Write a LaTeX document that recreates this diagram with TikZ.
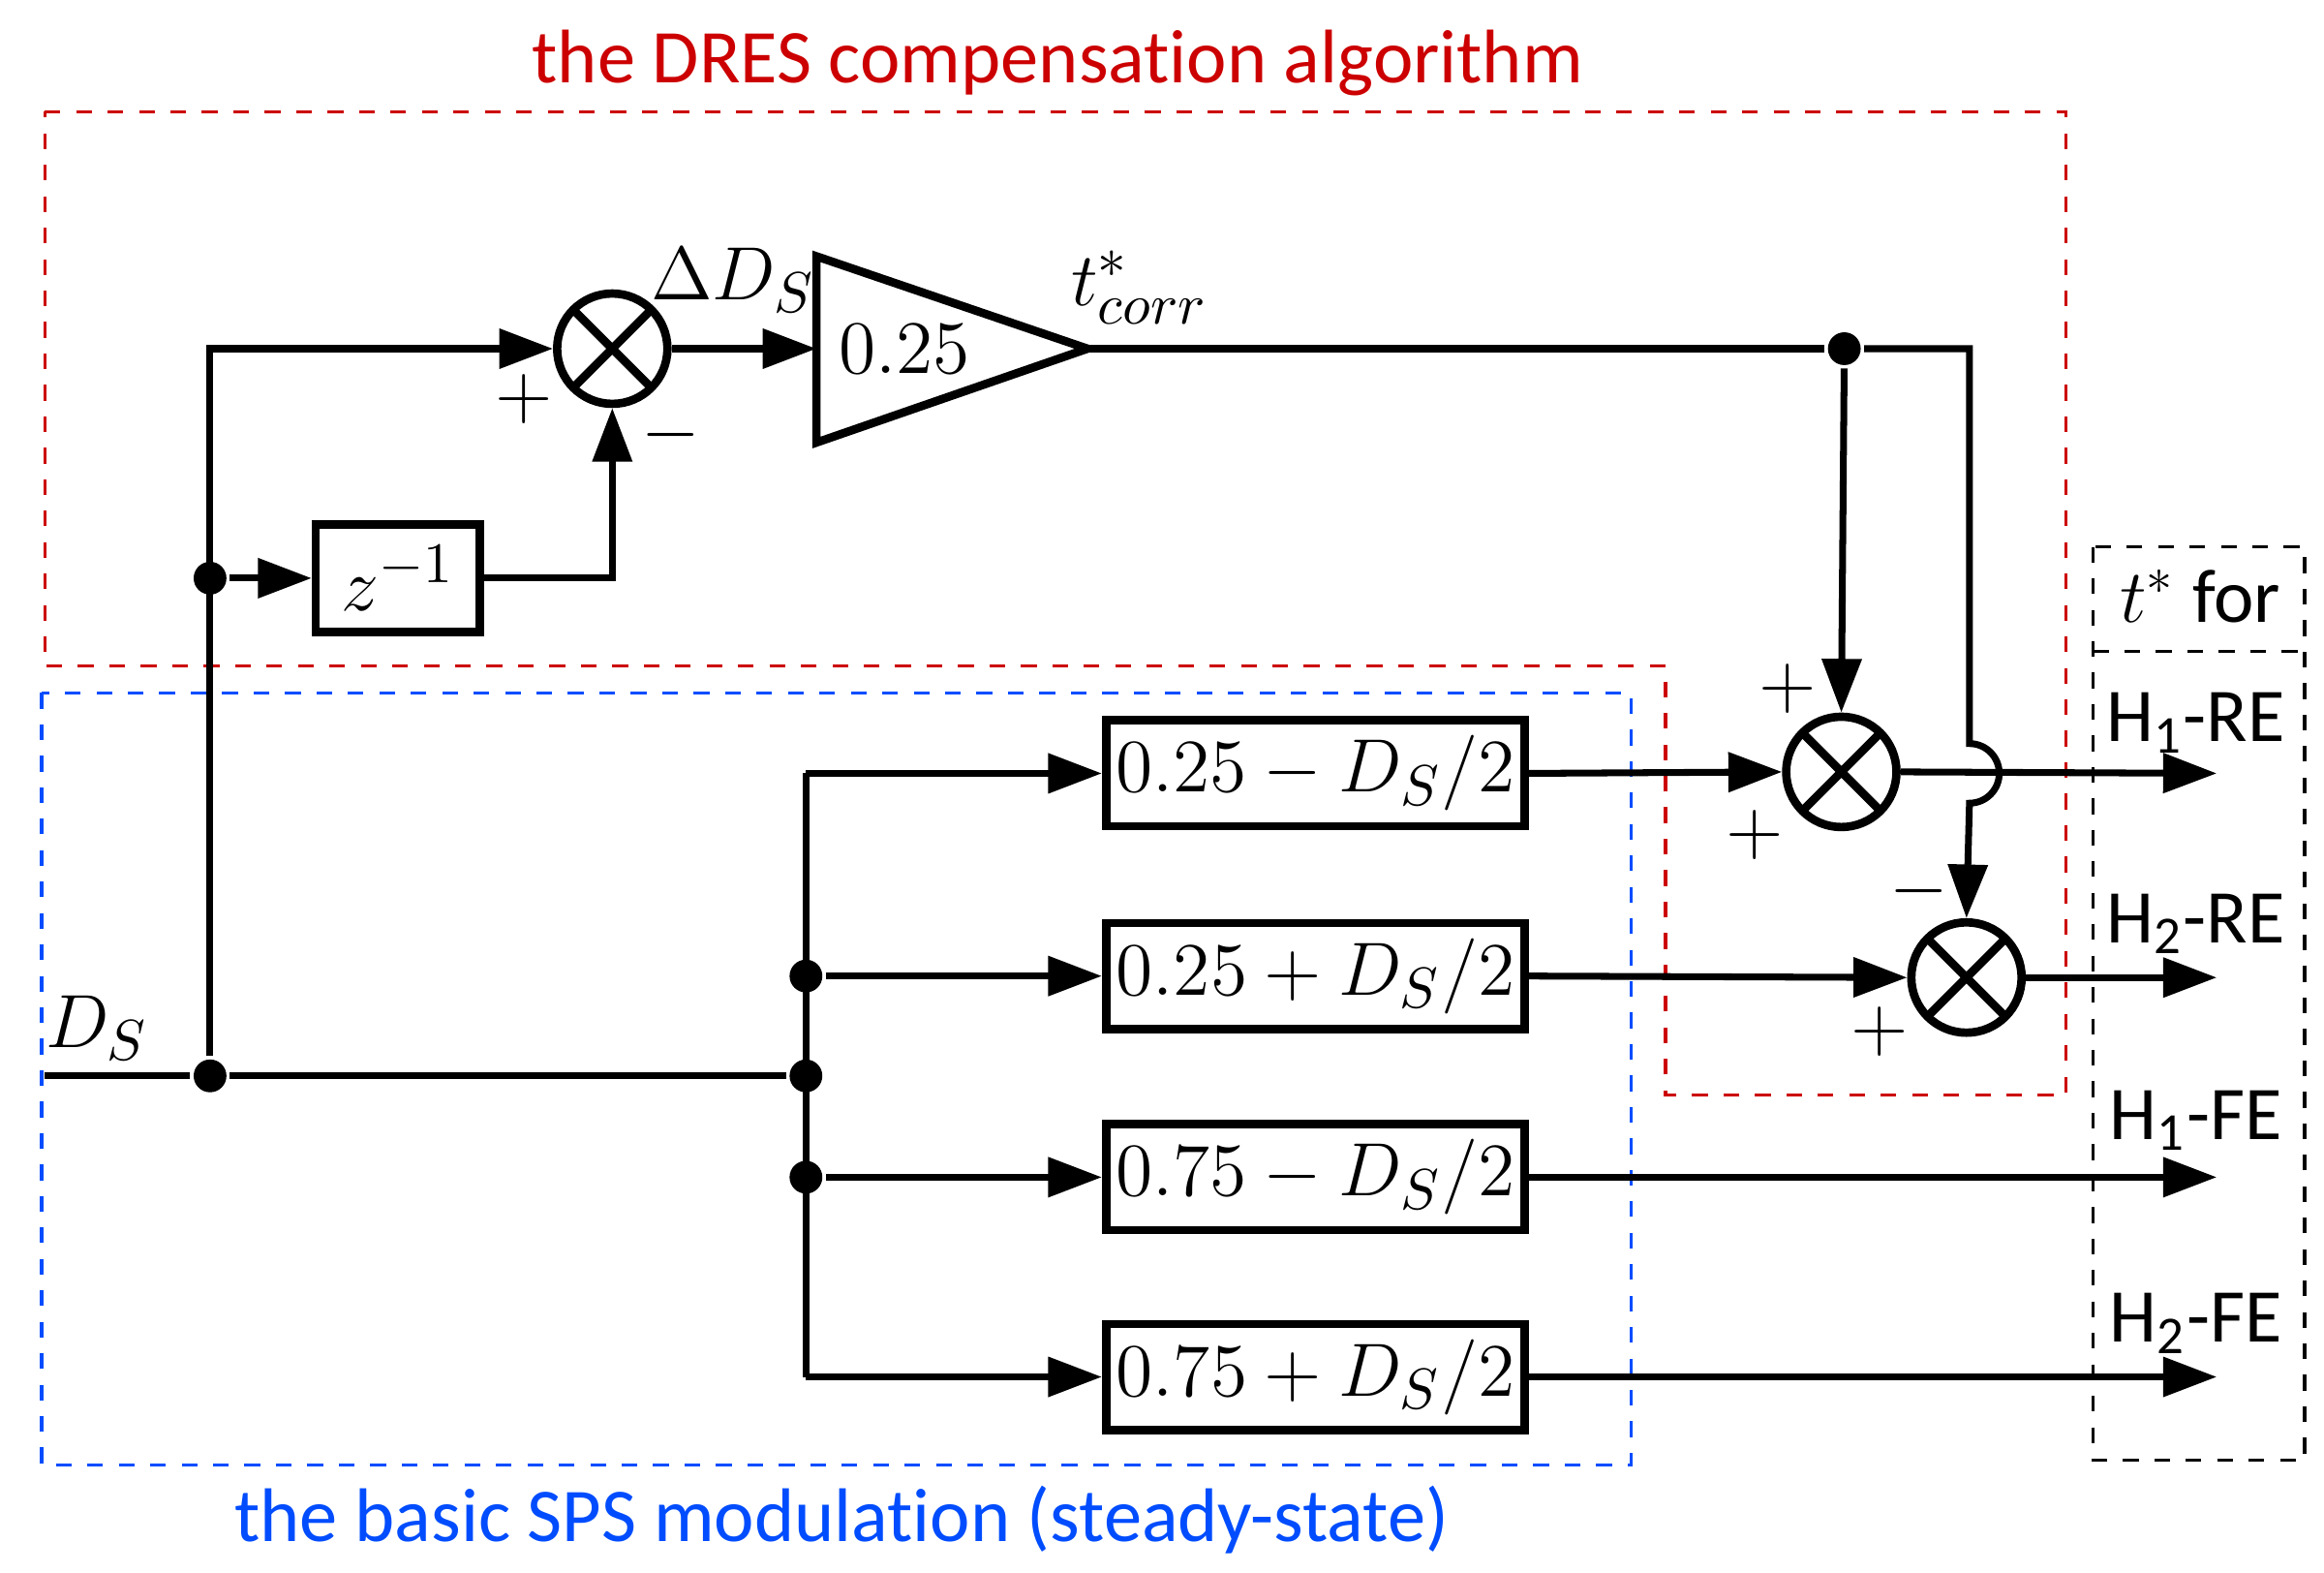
\documentclass[tikz,border=0pt]{standalone}
\usepackage{fontspec}
\setmainfont{Carlito}[Ligatures={NoCommon}]
\usetikzlibrary{arrows.meta,calc}
\begin{document}
\begin{tikzpicture}[x=0.01cm,y=-0.01cm,line width=1.3pt,
  arr/.style={-{Triangle[length=3.6mm,width=2.6mm]}},
  blk/.style={draw,rectangle,line width=1.6pt,inner sep=0pt},
  sum/.style={draw,circle,minimum size=0.74cm,inner sep=0pt,line width=1.6pt,
    path picture={\draw[line width=1.6pt] (path picture bounding box.north west)--(path picture bounding box.south east)
      (path picture bounding box.north east)--(path picture bounding box.south west);}},
  dot/.style={circle,fill,inner sep=0pt,minimum size=2.2mm},
  lab/.style={font=\fontsize{14.5}{17}\selectfont},
  mth/.style={font=\fontsize{15}{18}\selectfont}]
\useasboundingbox (0,0) rectangle (1560,1055);
% dashed frames
\draw[red!80!black,dashed,line width=0.6pt] (30,75)--(1387,75)--(1387,735)--(1118,735)--(1118,447)--(30,447)--cycle;
\draw[blue!70!cyan,dashed,line width=0.6pt] (28,465) rectangle (1095,983);
\draw[dashed,line width=0.6pt] (1405,367) rectangle (1547,980) (1405,437)--(1547,437);
\node[lab,text=red!80!black] (t1) at (710,42) {the DRES compensation algorithm};
\node[lab,text=blue!70!cyan] (t2) at (565,1020) {the basic SPS modulation (steady-state)};
% blocks
\node[sum] (s1) at (411,234) {};
\node[sum] (s2) at (1236,518) {};
\node[sum] (s3) at (1320,656) {};
\coordinate (gin) at (548,234);
\coordinate (gout) at (730,234);
\draw[line width=1.6pt] (548,172)--(gout)--(548,297)--cycle;
\node[mth] (gl) at (607,234) {$0.25$};
\node[blk,minimum width=1.1cm,minimum height=0.72cm,mth] (z) at (267,388) {$z^{-1}$};
\node[blk,minimum width=2.81cm,minimum height=0.71cm,mth] (b1) at (883,519) {$0.25-D_S/2$};
\node[blk,minimum width=2.81cm,minimum height=0.71cm,mth] (b2) at (883,655) {$0.25+D_S/2$};
\node[blk,minimum width=2.81cm,minimum height=0.71cm,mth] (b3) at (883,790) {$0.75-D_S/2$};
\node[blk,minimum width=2.81cm,minimum height=0.71cm,mth] (b4) at (883,924) {$0.75+D_S/2$};
% junctions
\node[dot] (j1) at (141,722) {};
\node[dot] (j2) at (141,388) {};
\node[dot] (j3) at (541,722) {};
\node[dot] (j4) at (541,655) {};
\node[dot] (j5) at (541,790) {};
\node[dot] (j6) at (1238,234) {};
\coordinate (in) at (30,722);
\coordinate (top) at (541,519);
\coordinate (bot) at (541,924);
\coordinate (o1) at (1488,519);
\coordinate (o2) at (1488,656);
\coordinate (o3) at (1488,790);
\coordinate (o4) at (1488,924);
% connectors
\draw (in)--(j1)--(j3);
\draw[arr] (j1)--(141,234)--(s1.west);
\draw[arr] (j2)--(z.west);
\draw[arr] (z.east)-|(s1.south);
\draw[arr] (s1.east)--(gin);
\draw (gout)--(j6);
\draw[arr] (j6)--(s2.north);
\draw[arr] (j6)--(1322,234)--(1322,499) arc[start angle=-90,end angle=90,radius=20]--(s3.north);
\draw (top)--(bot);
\draw[arr] (top)--(b1.west);
\draw[arr] (j4)--(b2.west);
\draw[arr] (j5)--(b3.west);
\draw[arr] (bot)--(b4.west);
\draw[arr] (b1.east)--(s2.west);
\draw[arr] (b2.east)--(s3.west);
\draw[arr] (s2.east)--(o1);
\draw[arr] (s3.east)--(o2);
\draw[arr] (b3.east)--(o3);
\draw[arr] (b4.east)--(o4);
% labels
\node[mth] (l1) at (492,188) {$\Delta D_S$};
\node[mth] (l2) at (765,193) {$t^*_{corr}$};
\node[mth] (l3) at (65,690) {$D_S$};
\node[mth] (p1) at (352,268) {$+$};
\node[mth] (m1) at (450,292) {$-$};
\node[mth] (p2) at (1200,462) {$+$};
\node[mth] (p3) at (1178,560) {$+$};
\node[mth] (m2) at (1288,598) {$-$};
\node[mth] (p4) at (1262,692) {$+$};
\node[lab] (h1) at (1474,485) {H\textsubscript{1}-RE};
\node[lab] (h2) at (1474,620) {H\textsubscript{2}-RE};
\node[lab] (h3) at (1474,752) {H\textsubscript{1}-FE};
\node[lab] (h4) at (1474,888) {H\textsubscript{2}-FE};
\node[lab] (tf) at (1477,400) {$t^*$ for};
\end{tikzpicture}
\end{document}
